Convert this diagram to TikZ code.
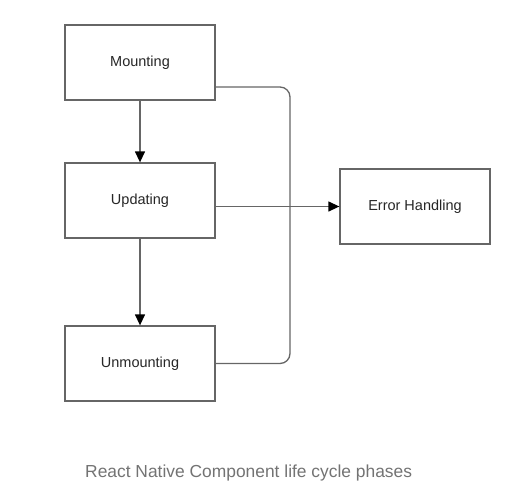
\documentclass[tikz,border=0pt]{standalone}
\usepackage{fontspec}
\setmainfont{Liberation Sans}
\usetikzlibrary{arrows.meta}
\begin{document}
\begin{tikzpicture}[x=1pt,y=-1pt,
  box/.style={draw=black!60,line width=1.3pt,minimum width=150pt,minimum height=75pt,inner sep=0pt,font=\fontsize{14.5}{16}\selectfont,text=black!85},
  link/.style={draw=black!60,line width=1.3pt},
  arr/.style={link,-{Triangle[length=11pt,width=10pt,color=black]}}]
\useasboundingbox (0,0) rectangle (532,501);
\node[box] (m) at (140,62.5) {Mounting};
\node[box] (u) at (140,200.5) {Updating};
\node[box] (n) at (140,363.5) {Unmounting};
\node[box] (e) at (415,206.5) {Error Handling};
\draw[arr] (m) -- (u);
\draw[arr] (u) -- (n);
\draw[link,rounded corners=10pt] ([yshift=-24.5pt]m.east) -| (290,300) |- (n.east);
\draw[arr] (u.east |- e.west) -- (e.west);
\node[font=\fontsize{17.4}{19}\selectfont,text=black!55,anchor=west,inner sep=0pt] (cap) at (85,473) {React Native Component life cycle phases};
\end{tikzpicture}
\end{document}
